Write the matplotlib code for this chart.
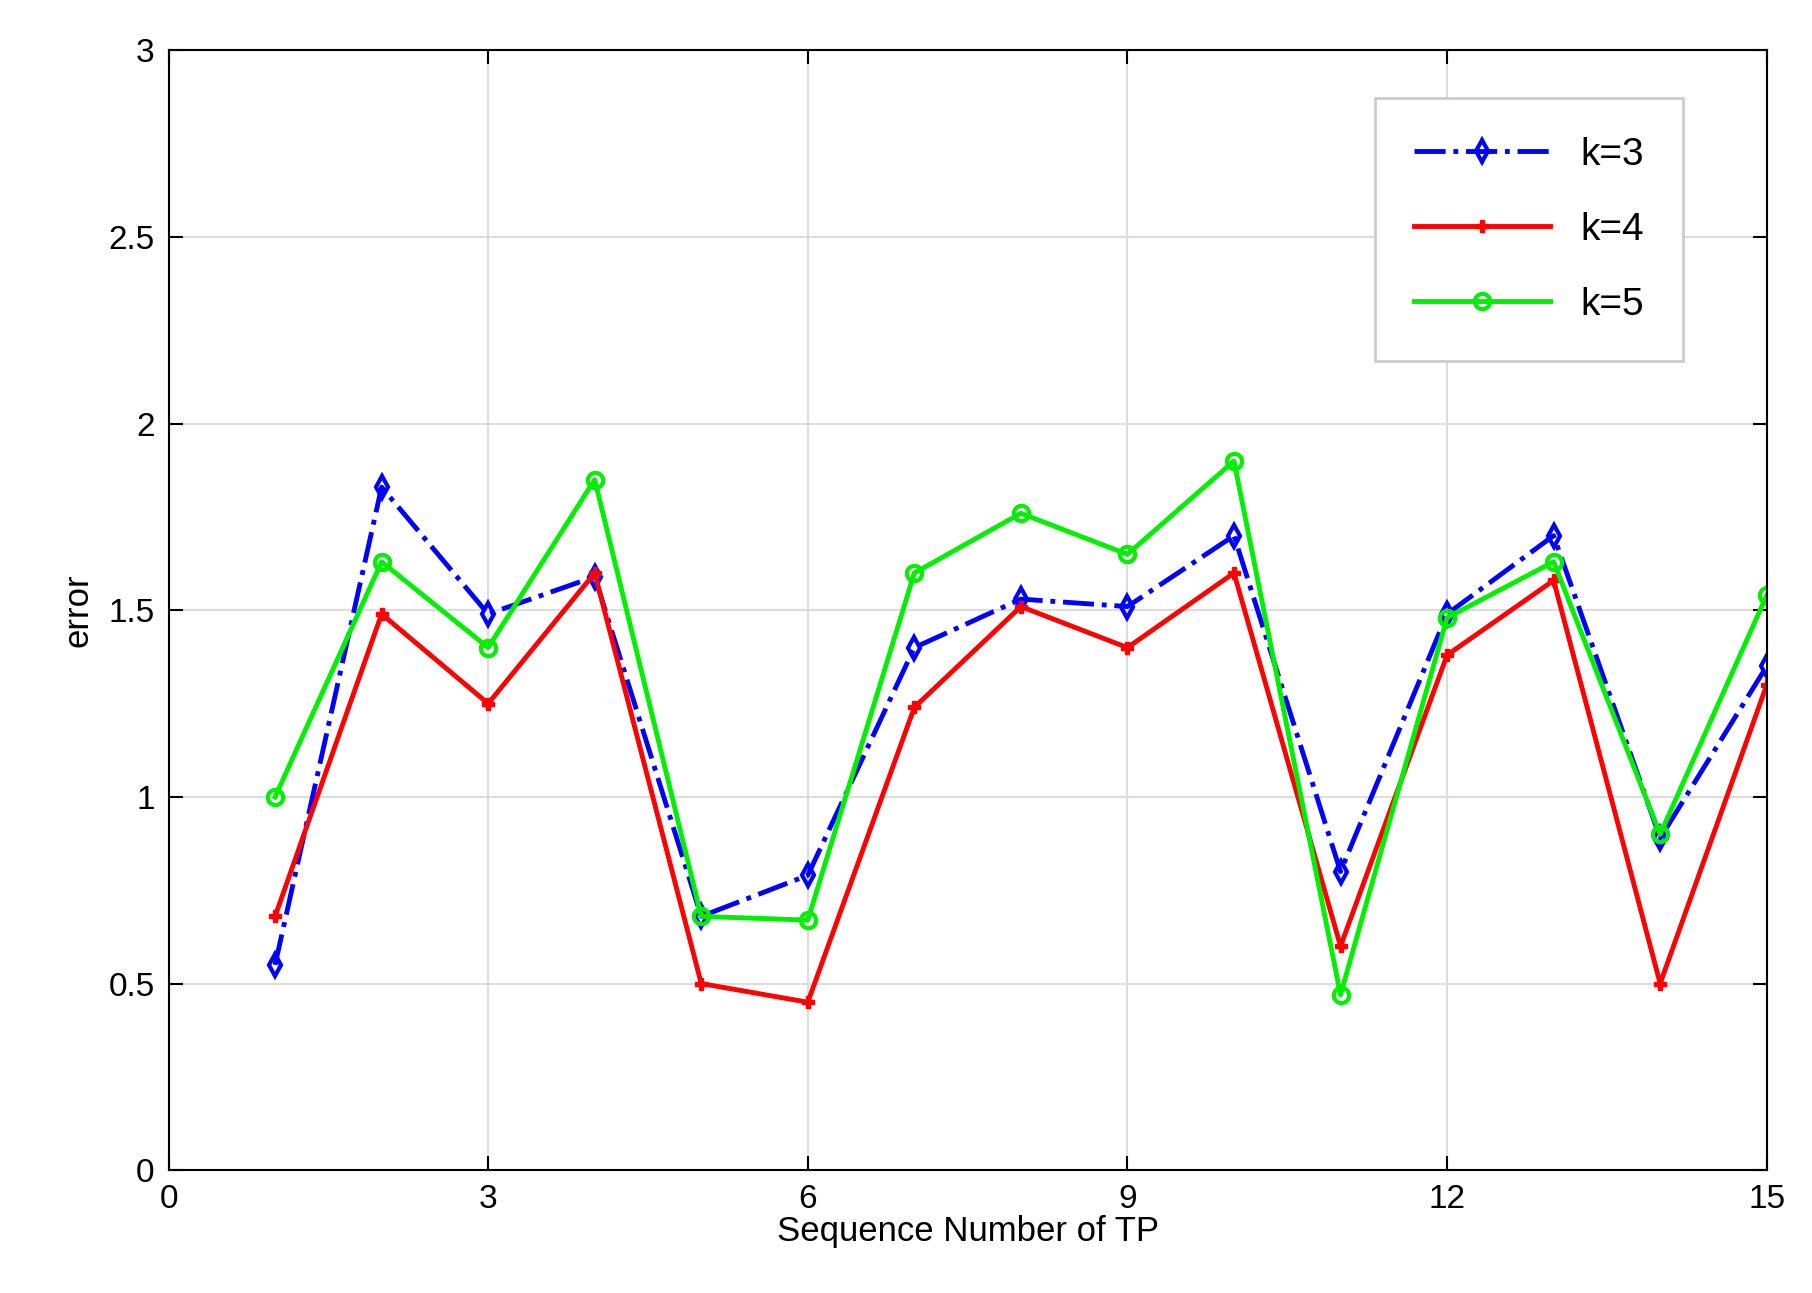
import matplotlib
matplotlib.use("Agg")
import matplotlib.pyplot as plt

x = list(range(1, 16))
k3 = [0.55,1.83,1.49,1.59,0.68,0.79,1.40,1.53,1.51,1.70,0.80,1.49,1.70,0.89,1.35]
k4 = [0.68,1.49,1.25,1.60,0.50,0.45,1.24,1.51,1.40,1.60,0.60,1.38,1.58,0.50,1.30]
k5 = [1.00,1.63,1.40,1.85,0.68,0.67,1.60,1.76,1.65,1.90,0.47,1.48,1.63,0.90,1.54]
xticks = [0,3,6,9,12,15]
yticks = [0,0.5,1,1.5,2,2.5,3]
ylabels = ["0","0.5","1","1.5","2","2.5","3"]

plt.rcParams['font.family'] = ['Liberation Sans', 'DejaVu Sans']
fig = plt.figure(figsize=(18.12, 12.93), dpi=100)
ax = fig.add_axes([0.093, 0.095, 0.882, 0.866])
ax.plot(x, k3, color='#0000ff', ls='-.', lw=3.5, marker='d', ms=11, mfc='none', mew=3, label='k=3')
ax.plot(x, k4, color='#ff0000', ls='-', lw=3.5, marker='P', ms=9, label='k=4')
ax.plot(x, k5, color='#00ee00', ls='-', lw=3.5, marker='o', ms=11, mfc='none', mew=3, label='k=5')
ax.set_xlim(0, 15); ax.set_ylim(0, 3)
ax.set_xticks(xticks); ax.set_yticks(yticks); ax.set_yticklabels(ylabels)
ax.grid(True, color='#dddddd', lw=1.5)
ax.tick_params(labelsize=24, direction='in', length=10, width=1.5, top=True, right=True, pad=10)
for s in ax.spines.values(): s.set_linewidth(1.5)
ax.set_xlabel('Sequence Number of TP', fontsize=25, labelpad=0)
ax.set_ylabel('error', fontsize=25, labelpad=10)
leg = ax.legend(loc='upper right', bbox_to_anchor=(0.96, 0.975), fontsize=28, fancybox=False,
                handlelength=3.5, borderpad=1.0, labelspacing=1.0, edgecolor='#cccccc', framealpha=1)
leg.get_frame().set_linewidth(2)
fig.savefig('out.png', dpi=100)
